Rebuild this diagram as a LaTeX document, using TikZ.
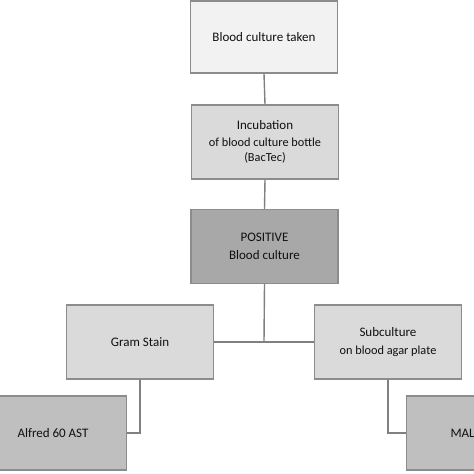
\documentclass[tikz,border=0pt]{standalone}
\usepackage{fontspec}
\setmainfont{Carlito}
\begin{document}
\begin{tikzpicture}[x=1pt,y=-1pt,
  box/.style={draw=boxline,line width=1.4pt,minimum width=147pt,minimum height=74pt,inner sep=0pt,text=txt,align=center,font=\fontsize{13}{15}\selectfont},
  conn/.style={draw=conline,line width=1.4pt}]
\definecolor{boxline}{HTML}{8C8C8C}
\definecolor{conline}{HTML}{808080}
\definecolor{txt}{HTML}{101010}
\definecolor{fillA}{HTML}{F2F2F2}
\definecolor{fillB}{HTML}{DADADA}
\definecolor{fillC}{HTML}{A8A8A8}
\definecolor{fillD}{HTML}{BFBFBF}
\useasboundingbox (0,0) rectangle (474,474);
\clip (0,0) rectangle (474,474);
\fill[white] (0,0) rectangle (474,474);
\node[box,fill=fillA,minimum height=72pt] (taken) at (264,37) {Blood culture taken};
\node[box,fill=fillB] (incub) at (265,142) {Incubation\\[2pt]{\fontsize{12.3}{14.5}\selectfont of blood culture bottle}\\{\fontsize{12.3}{14.5}\selectfont (BacTec)}};
\node[box,fill=fillC] (pos) at (264.5,246.5) {POSITIVE\\[3.5pt]Blood culture};
\node[box,fill=fillB] (gram) at (140,342) {Gram Stain};
\node[box,fill=fillB] (sub) at (388,342) {Subculture\\[2.5pt]{\fontsize{12.3}{14.5}\selectfont on blood agar plate}};
\node[box,fill=fillD] (alfred) at (53,433) {Alfred 60 AST};
\node[box,fill=fillD,inner xsep=44pt,text width=59pt,align=left] (mal) at (480,433) {MAL};
\coordinate (split) at (264,342);
\draw[conn] (taken.south) -- (incub.north);
\draw[conn] (incub.south) -- (pos.north);
\draw[conn] (pos.south) -- (split);
\draw[conn] (gram.east) -- (sub.west);
\draw[conn] (gram.south) |- (alfred.east);
\draw[conn] (sub.south) |- (mal.west);
\end{tikzpicture}
\end{document}
